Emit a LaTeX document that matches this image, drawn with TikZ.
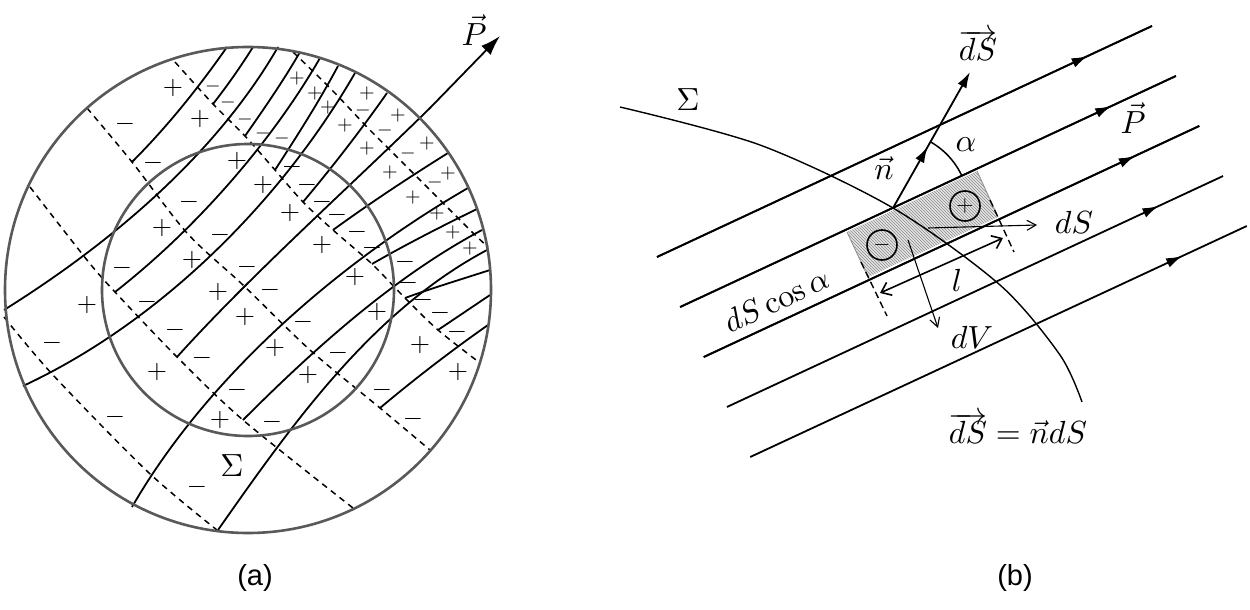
\documentclass[tikz,border=0pt]{standalone}
\usepackage{fontspec}
\newfontfamily\labfont{Liberation Sans}
\usetikzlibrary{arrows.meta,patterns,decorations.markings}
\tikzset{
  sol/.style={line width=1.8pt},
  ring/.style={line width=2.6pt, draw=black!65},
  dsh/.style={line width=1.5pt, dash pattern=on 6pt off 5pt},
  chL/.style={inner sep=0pt, scale=2.6},
  chS/.style={inner sep=0pt, scale=2.0},
  lab/.style={inner sep=0pt, scale=3.2},
  thinar/.style={line width=1.1pt, -{Straight Barb[length=9pt,width=10pt]}},
  midarrow/.style={postaction={decorate}, decoration={markings, mark=at position #1 with {\arrow{Latex[length=16pt,width=10pt]}}}}
}
\begin{document}
\begin{tikzpicture}[x=1pt,y=-1pt]
\useasboundingbox (0,0) rectangle (1250,610);
% ---------------- panel (a) ----------------
\coordinate (ctr) at (248,290);
\draw[sol] (132,162) .. controls +(-45:50) and +(125:50) .. (227,47);
\draw[sol] (213,104) .. controls +(-52:23) and +(122:23) .. (253,47);
\draw[sol] (4,310) .. controls +(-32:125) and +(120:125) .. (278,47);
\draw[sol] (245,136) .. controls +(-55:33) and +(120:33) .. (300,52);
\draw[sol] (115,292) .. controls +(-38:100) and +(120:100) .. (320,58);
\draw[sol] (275,170) .. controls +(-57:40) and +(118:40) .. (338,66);
\draw[sol] (23,386) .. controls +(-25:150) and +(120:150) .. (355,73);
\draw[sol] (303,202) .. controls +(-50:45) and +(125:45) .. (387,93);
\coordinate (ptip) at (500,36);
\draw[sol,-{Latex[length=20pt,width=13pt]}] (177,357) .. controls +(-48:110) and +(135.5:110) .. (430,108) -- (ptip);
\draw[sol] (333,230) .. controls +(-36:46) and +(148:46) .. (448,153);
\draw[sol] (132,507) .. controls +(-60:150) and +(150:150) .. (468,188);
\draw[sol] (372,264) .. controls +(-30:39) and +(154:39) .. (477,209);
\draw[sol] (243,420) .. controls +(-45:100) and +(152:100) .. (482,230);
\draw[sol] (218,530) .. controls +(-55:130) and +(152:130) .. (487,250);
\draw[sol] (405,298) .. controls +(-20:30) and +(162:30) .. (490,270);
\draw[sol] (438,330) .. controls +(-34:21) and +(146:21) .. (490,295);
\draw[sol] (380,408) .. controls +(-40:45) and +(145:45) .. (488,325);
\draw[dsh] plot[smooth] coordinates {(4,317) (53,375) (148,472) (217,530)};
\draw[dsh] plot[smooth] coordinates {(30,187) (87,260) (115,292) (177,357) (243,420) (353,508)};
\draw[dsh] plot[smooth] coordinates {(87,108) (132,162) (187,233) (243,285) (310,350) (380,408) (430,450)};
\draw[dsh] plot[smooth] coordinates {(175,62) (213,104) (245,136) (275,170) (303,202) (333,230) (372,264) (405,298) (438,330) (480,363)};
\draw[dsh] plot[smooth] coordinates {(293,52) (330,88) (367,127) (390,150) (422,182) (440,200) (473,233) (488,247)};
\draw[ring] (ctr) circle[radius=243pt];
\draw[ring] (ctr) circle[radius=146pt];
\foreach \p in {(173,88),(200,119),(237,161),(162,228),(192,260),(263,185),(290,213),(322,245),(355,277),(245,317),(275,348),(308,375),(218,292),(157,372),(220,420),(87,305),(377,312),(420,345),(458,372)}
  \node[chL] at \p {$+$};
\foreach \p in {(125,124),(153,163),(189,202),(220,235),(122,268),(247,267),(270,290),(303,322),(338,353),(147,302),(175,330),(52,343),(202,358),(237,390),(115,417),(197,487),(272,422),(382,390),(413,419),(408,283),(423,300),(440,313),(457,332),(405,262),(372,248),(357,232),(337,215),(322,202),(307,185),(292,167)}
  \node[chL] at \p {$-$};
\foreach \p in {(297,78),(315,93),(328,107),(367,94),(345,125),(398,115),(427,143),(367,148),(390,172),(448,173),(413,197),(437,213),(453,232),(470,248)}
  \node[chS] at \p {$+$};
\foreach \p in {(213,87),(228,102),(245,119),(263,133),(282,138),(363,110),(385,130),(408,153),(435,182)}
  \node[chS] at \p {$-$};
\node[lab] (sigA) at (232,466) {$\Sigma$};
\node[lab] (pA) at (474,30) {$\vec{P}$};
\node[font=\labfont\fontsize{29}{29}\selectfont] (la) at (255,578) {(a)};
% ---------------- panel (b) ----------------
\foreach \k in {0,...,4}
  \draw[sol, midarrow=0.87] ({657+23.3*\k},{257+50*\k}) -- ({1152+23.7*\k},{26+50*\k});
\coordinate (A) at (847,232); \coordinate (B) at (977,171);
\coordinate (C) at (998,217); \coordinate (D) at (868,277);
\fill[black!10] (A) -- (B) -- (C) -- (D) -- cycle;
\fill[pattern=north west lines, pattern color=black!45] (A) -- (B) -- (C) -- (D) -- cycle;
\draw[black!40, line width=1pt] (A) -- (D) (B) -- (C);
\draw[sol] (657,257) -- (1152,26);
\draw[sol] (680,307) -- (1176,76);
\draw[sol] (704,357) -- (1199,126);
\draw[line width=1.4pt, dash pattern=on 7pt off 4pt] (861,262) -- (887,316);
\draw[line width=1.4pt, dash pattern=on 7pt off 4pt] (990,200) -- (1014,252);
\coordinate (O) at (893,208);
\draw[line width=1.4pt] plot[smooth] coordinates {(620,107) (760,145) (893,208) (1000,285) (1060,355) (1082,402)};
\draw[line width=1.6pt] (965,206) circle[radius=15pt];
\draw[line width=1.6pt] (882,245) circle[radius=15pt];
\node[inner sep=0pt, scale=2.2] (plus) at (965,206) {$+$};
\node[inner sep=0pt, scale=2.2] (minus) at (882,245) {$-$};
\coordinate (dStip) at (970,72);
\draw[sol, -{Latex[length=16pt,width=10pt]}, midarrow=0.45] (O) -- (dStip);
\draw[line width=1.5pt] plot[domain=25:60.5, samples=30] ({893+76*cos(\x)},{208-76*sin(\x)});
\coordinate (dsa) at (928,228); \coordinate (dsb) at (1037,225);
\draw[thinar] (dsa) -- (dsb);
\coordinate (la1) at (880,293); \coordinate (la2) at (1003,238);
\draw[line width=1.6pt, {Straight Barb[length=9pt,width=14pt]}-{Straight Barb[length=9pt,width=14pt]}] (la1) -- (la2);
\coordinate (dva) at (908,240); \coordinate (dvb) at (938,328);
\draw[thinar] (dva) -- (dvb);
\node[lab] (sigB) at (688,100) {$\Sigma$};
\node[lab] (dSv) at (978,45) {$\overrightarrow{dS}$};
\node[lab] (Pv) at (1133,118) {$\vec{P}$};
\node[lab] (al) at (966,145) {$\alpha$};
\node[lab] (nv) at (884,168) {$\vec{n}$};
\node[lab] (dSl) at (1074,222) {$dS$};
\node[lab] (ll) at (957,280) {$l$};
\node[lab] (dVl) at (972,337) {$dV$};
\node[lab, rotate=25] (dsc) at (776,300) {$dS\cos\alpha$};
\node[lab] (eq) at (1018,428) {$\overrightarrow{dS}=\vec{n}dS$};
\node[font=\labfont\fontsize{29}{29}\selectfont] (lb) at (1015,578) {(b)};
\end{tikzpicture}
\end{document}
